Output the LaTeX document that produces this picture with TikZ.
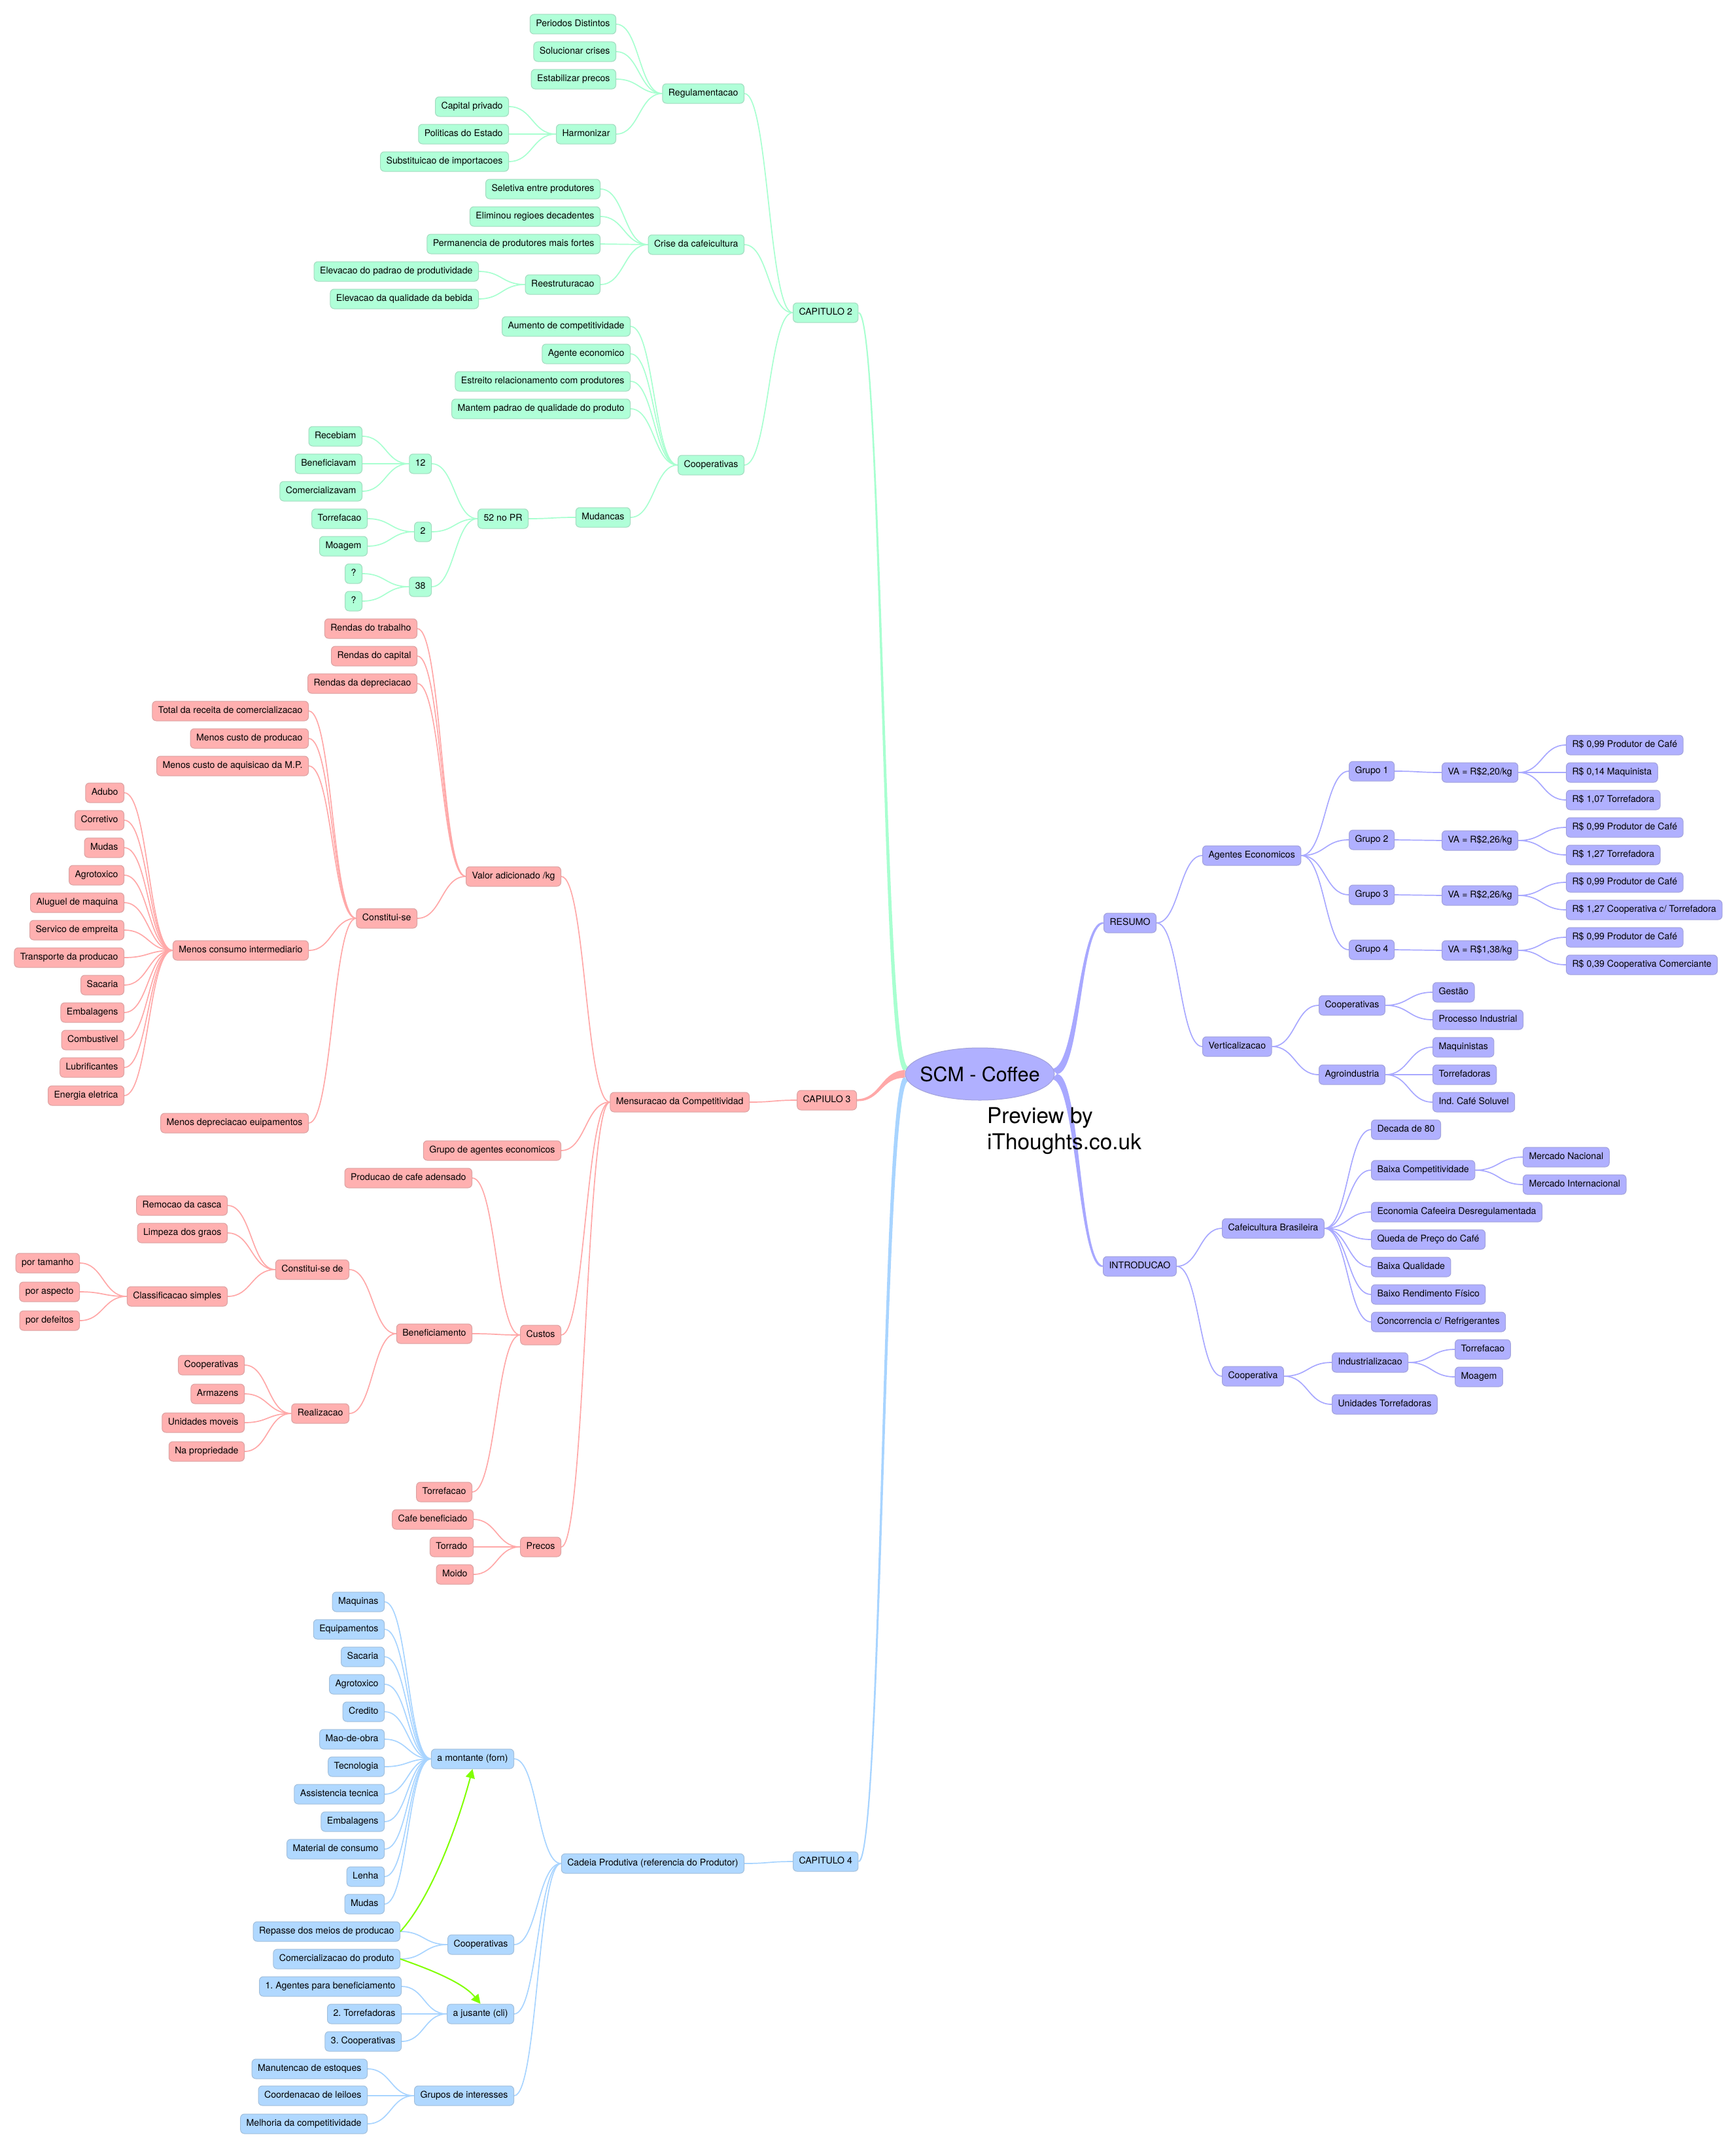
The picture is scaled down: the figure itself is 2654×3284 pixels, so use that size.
\documentclass[tikz,border=0pt]{standalone}
\usepackage{fontspec}
\setmainfont{TeX Gyre Heros}
\usetikzlibrary{calc,shapes.geometric,arrows.meta}
\pgfdeclarelayer{bg}
\pgfsetlayers{bg,main}
\definecolor{grF}{HTML}{B0FFD8}\definecolor{grL}{HTML}{A8FFD0}
\definecolor{rdF}{HTML}{FFB0B0}\definecolor{rdL}{HTML}{FFA8A8}
\definecolor{blF}{HTML}{B0D8FF}\definecolor{blL}{HTML}{A8D4FF}
\definecolor{puF}{HTML}{B0B0FF}\definecolor{puL}{HTML}{A8A8FF}
\definecolor{arL}{HTML}{80FF00}
\tikzset{
  bx/.style={rectangle,rounded corners=6pt,minimum height=30pt,inner xsep=9pt,inner ysep=0pt,
    text height=10.5pt,text depth=3pt,line width=1pt,text=black,font=\frenchspacing\fontsize{14.13}{16}\selectfont},
  gr/.style={fill=grF,draw=grF!72!gray},
  rd/.style={fill=rdF,draw=rdF!72!gray},
  bl/.style={fill=blF,draw=blF!72!gray},
  pu/.style={fill=puF,draw=puF!72!gray},
  conn/.style={line width=1.7pt},
  link/.style={draw=arL,line width=2pt,-{Triangle[length=14pt,width=14pt]}}
}
\newcommand\Lf[5]{\node[bx,#1,anchor=east] (#2) at (#3,#4) {#5};}
\newcommand\Rf[5]{\node[bx,#1,anchor=west] (#2) at (#3,#4) {#5};}
\newcommand\cn[2]{\draw[conn] let \p1=(#1.east),\p2=(#2.west),\n1={0.5*(\x2-\x1)} in (\p1) .. controls +(\n1,0) and +(-\n1,0) .. (\p2);}
\newcommand\taper[5]{\fill[#1] let \p1=(#2),\p2=(#3),\n1={0.5*(\x1+\x2)} in
 ({\x1+.25*(#4pt)},{\y1+.25*(#5pt)}) .. controls ({\n1+.4*(#4pt)},{\y1+.4*(#5pt)}) and ({\n1+.8*(#4pt)},{\y2+.8*(#5pt)}) .. ({\x2+(#4pt)},{\y2+(#5pt)})
 -- ({\x2-(#4pt)},{\y2-(#5pt)}) .. controls ({\n1-.8*(#4pt)},{\y2-.8*(#5pt)}) and ({\n1-.4*(#4pt)},{\y1-.4*(#5pt)}) .. ({\x1-.25*(#4pt)},{\y1-.25*(#5pt)}) -- cycle;}
\begin{document}
\begin{tikzpicture}[x=1pt,y=-1pt]
\useasboundingbox (0,0) rectangle (2654,3284);
\node[ellipse,fill=puF,draw=puF!70!gray,line width=1pt,minimum width=228pt,minimum height=80pt,inner xsep=-11.5pt,inner ysep=0pt,font=\fontsize{30.4}{34}\selectfont] (root) at (1498,1642) {SCM - Coffee};

% GREEN
\Rf{gr}{c2}{1212}{478}{CAPITULO 2}
\Lf{gr}{reg}{1138}{143}{Regulamentacao}
\Lf{gr}{per}{942}{37}{Periodos Distintos}
\Lf{gr}{sol}{942}{79}{Solucionar crises}
\Lf{gr}{est}{942}{121}{Estabilizar precos}
\Lf{gr}{har}{942}{205}{Harmonizar}
\Lf{gr}{cap}{778}{163}{Capital privado}
\Lf{gr}{pol}{778}{205}{Politicas do Estado}
\Lf{gr}{sub}{778}{247}{Substituicao de importacoes}
\Lf{gr}{cri}{1138}{374}{Crise da cafeicultura}
\Lf{gr}{sel}{918}{289}{Seletiva entre produtores}
\Lf{gr}{eli}{918}{331}{Eliminou regioes decadentes}
\Lf{gr}{pem}{918}{373}{Permanencia de produtores mais fortes}
\Lf{gr}{ree}{918}{435}{Reestruturacao}
\Lf{gr}{ev1}{732}{415}{Elevacao do padrao de produtividade}
\Lf{gr}{ev2}{732}{457}{Elevacao da qualidade da bebida}
\Lf{gr}{coo}{1138}{711}{Cooperativas}
\Lf{gr}{aum}{964}{499}{Aumento de competitividade}
\Lf{gr}{age}{964}{541}{Agente economico}
\Lf{gr}{etr}{964}{583}{Estreito relacionamento com produtores}
\Lf{gr}{man}{964}{625}{Mantem padrao de qualidade do produto}
\Lf{gr}{mud}{964}{791}{Mudancas}
\Lf{gr}{pr}{808}{793}{52 no PR}
\Lf{gr}{n12}{660}{709}{12}
\Lf{gr}{rec}{554}{667}{Recebiam}
\Lf{gr}{ben}{554}{709}{Beneficiavam}
\Lf{gr}{com}{554}{751}{Comercializavam}
\Lf{gr}{n2}{660}{813}{2}
\Lf{gr}{tor}{562}{793}{Torrefacao}
\Lf{gr}{moa}{562}{835}{Moagem}
\Lf{gr}{n38}{660}{897}{38}
\Lf{gr}{qa}{554}{877}{?}
\Lf{gr}{qb}{554}{919}{?}

% RED
\Lf{rd}{c3}{1310}{1682}{CAPIULO 3}
\Lf{rd}{mens}{1146}{1685}{Mensuracao da Competitividad}
\Lf{rd}{val}{858}{1340}{Valor adicionado /kg}
\Lf{rd}{rt}{638}{961}{Rendas do trabalho}
\Lf{rd}{rc}{638}{1003}{Rendas do capital}
\Lf{rd}{rdp}{638}{1045}{Rendas da depreciacao}
\Lf{rd}{cons}{638}{1404}{Constitui-se}
\Lf{rd}{tot}{472}{1087}{Total da receita de comercializacao}
\Lf{rd}{mcp}{472}{1129}{Menos custo de producao}
\Lf{rd}{mca}{472}{1171}{Menos custo de aquisicao da M.P.}
\Lf{rd}{mci}{472}{1453}{Menos consumo intermediario}
\Lf{rd}{mde}{472}{1717}{Menos depreciacao euipamentos}
\Lf{rd}{i1}{190}{1212}{Adubo}
\Lf{rd}{i2}{190}{1254}{Corretivo}
\Lf{rd}{i3}{190}{1296}{Mudas}
\Lf{rd}{i4}{190}{1338}{Agrotoxico}
\Lf{rd}{i5}{190}{1380}{Aluguel de maquina}
\Lf{rd}{i6}{190}{1422}{Servico de empreita}
\Lf{rd}{i7}{190}{1464}{Transporte da producao}
\Lf{rd}{i8}{190}{1506}{Sacaria}
\Lf{rd}{i9}{190}{1548}{Embalagens}
\Lf{rd}{i10}{190}{1590}{Combustivel}
\Lf{rd}{i11}{190}{1632}{Lubrificantes}
\Lf{rd}{i12}{190}{1675}{Energia eletrica}
\Lf{rd}{gru}{858}{1759}{Grupo de agentes economicos}
\Lf{rd}{cus}{858}{2041}{Custos}
\Lf{rd}{pca}{722}{1801}{Producao de cafe adensado}
\Lf{rd}{bnf}{722}{2039}{Beneficiamento}
\Lf{rd}{tof}{722}{2281}{Torrefacao}
\Lf{rd}{csd}{534}{1941}{Constitui-se de}
\Lf{rd}{rea}{534}{2161}{Realizacao}
\Lf{rd}{rem}{348}{1843}{Remocao da casca}
\Lf{rd}{lim}{348}{1885}{Limpeza dos graos}
\Lf{rd}{cla}{348}{1982}{Classificacao simples}
\Lf{rd}{pt}{122}{1931}{por tamanho}
\Lf{rd}{pa}{122}{1975}{por aspecto}
\Lf{rd}{pd}{122}{2019}{por defeitos}
\Lf{rd}{rcp}{374}{2087}{Cooperativas}
\Lf{rd}{arm}{374}{2131}{Armazens}
\Lf{rd}{uni}{374}{2175}{Unidades moveis}
\Lf{rd}{nap}{374}{2219}{Na propriedade}
\Lf{rd}{pre}{858}{2365}{Precos}
\Lf{rd}{cbe}{724}{2323}{Cafe beneficiado}
\Lf{rd}{trd}{724}{2365}{Torrado}
\Lf{rd}{moi}{724}{2407}{Moido}

% BLUE
\Rf{bl}{c4}{1212}{2846}{CAPITULO 4}
\Lf{bl}{cad}{1138}{2849}{Cadeia Produtiva (referencia do Produtor)}
\Lf{bl}{mon}{786}{2689}{a montante (forn)}
\Lf{bl}{b1}{588}{2449}{Maquinas}
\Lf{bl}{b2}{588}{2491}{Equipamentos}
\Lf{bl}{b3}{588}{2533}{Sacaria}
\Lf{bl}{b4}{588}{2575}{Agrotoxico}
\Lf{bl}{b5}{588}{2617}{Credito}
\Lf{bl}{b6}{588}{2659}{Mao-de-obra}
\Lf{bl}{b7}{588}{2701}{Tecnologia}
\Lf{bl}{b8}{588}{2743}{Assistencia tecnica}
\Lf{bl}{b9}{588}{2785}{Embalagens}
\Lf{bl}{b10}{588}{2827}{Material de consumo}
\Lf{bl}{b11}{588}{2869}{Lenha}
\Lf{bl}{b12}{588}{2911}{Mudas}
\Lf{bl}{bco}{786}{2973}{Cooperativas}
\Lf{bl}{rep}{612}{2953}{Repasse dos meios de producao}
\Lf{bl}{cpr}{612}{2995}{Comercializacao do produto}
\Lf{bl}{jus}{786}{3079}{a jusante (cli)}
\Lf{bl}{j1}{614}{3037}{1. Agentes para beneficiamento}
\Lf{bl}{j2}{614}{3079}{2. Torrefadoras}
\Lf{bl}{j3}{614}{3121}{3. Cooperativas}
\Lf{bl}{gin}{786}{3204}{Grupos de interesses}
\Lf{bl}{g1}{562}{3163}{Manutencao de estoques}
\Lf{bl}{g2}{562}{3204}{Coordenacao de leiloes}
\Lf{bl}{g3}{562}{3247}{Melhoria da competitividade}

% PURPLE
\Rf{pu}{res}{1687}{1411}{RESUMO}
\Rf{pu}{ag}{1838}{1308}{Agentes Economicos}
\Rf{pu}{ver}{1838}{1600}{Verticalizacao}
\Rf{pu}{g1p}{2062}{1179}{Grupo 1}
\Rf{pu}{g2p}{2062}{1284}{Grupo 2}
\Rf{pu}{g3p}{2062}{1368}{Grupo 3}
\Rf{pu}{g4p}{2062}{1452}{Grupo 4}
\Rf{pu}{va1}{2204}{1181}{VA = R\$2,20/kg}
\Rf{pu}{va2}{2204}{1285}{VA = R\$2,26/kg}
\Rf{pu}{va3}{2204}{1369}{VA = R\$2,26/kg}
\Rf{pu}{va4}{2204}{1453}{VA = R\$1,38/kg}
\Rf{pu}{r1}{2394}{1139}{R\$ 0,99 Produtor de Café}
\Rf{pu}{r2}{2394}{1181}{R\$ 0,14 Maquinista}
\Rf{pu}{r3}{2394}{1223}{R\$ 1,07 Torrefadora}
\Rf{pu}{r4}{2394}{1265}{R\$ 0,99 Produtor de Café}
\Rf{pu}{r5}{2394}{1307}{R\$ 1,27 Torrefadora}
\Rf{pu}{r6}{2394}{1349}{R\$ 0,99 Produtor de Café}
\Rf{pu}{r7}{2394}{1391}{R\$ 1,27 Cooperativa c/ Torrefadora}
\Rf{pu}{r8}{2394}{1433}{R\$ 0,99 Produtor de Café}
\Rf{pu}{r9}{2394}{1475}{R\$ 0,39 Cooperativa Comerciante}
\Rf{pu}{vco}{2016}{1537}{Cooperativas}
\Rf{pu}{vag}{2016}{1643}{Agroindustria}
\Rf{pu}{ges}{2190}{1517}{Gestão}
\Rf{pu}{pro}{2190}{1559}{Processo Industrial}
\Rf{pu}{maq}{2190}{1601}{Maquinistas}
\Rf{pu}{tfd}{2190}{1643}{Torrefadoras}
\Rf{pu}{ind}{2190}{1685}{Ind. Café Soluvel}
\Rf{pu}{int}{1686}{1936}{INTRODUCAO}
\Rf{pu}{caf}{1868}{1878}{Cafeicultura Brasileira}
\Rf{pu}{cop}{1868}{2104}{Cooperativa}
\Rf{pu}{dec}{2096}{1727}{Decada de 80}
\Rf{pu}{bxc}{2096}{1789}{Baixa Competitividade}
\Rf{pu}{eco}{2096}{1853}{Economia Cafeeira Desregulamentada}
\Rf{pu}{que}{2096}{1895}{Queda de Preço do Café}
\Rf{pu}{bxq}{2096}{1937}{Baixa Qualidade}
\Rf{pu}{bxr}{2096}{1979}{Baixo Rendimento Físico}
\Rf{pu}{con}{2096}{2021}{Concorrencia c/ Refrigerantes}
\Rf{pu}{mna}{2328}{1769}{Mercado Nacional}
\Rf{pu}{mit}{2328}{1811}{Mercado Internacional}
\Rf{pu}{inl}{2036}{2083}{Industrializacao}
\Rf{pu}{utf}{2036}{2147}{Unidades Torrefadoras}
\Rf{pu}{ptf}{2224}{2063}{Torrefacao}
\Rf{pu}{pmo}{2224}{2105}{Moagem}

\node[anchor=north west,inner sep=0pt,align=left,font=\frenchspacing\fontsize{33.4}{39.5}\selectfont] (wm) at (1509,1693) {Preview by\\iThoughts.co.uk};

\begin{pgfonlayer}{bg}
\taper{grL}{c2.east}{root.176}{3}{3}
\taper{rdL}{c3.east}{root.180}{0}{6}
\taper{blL}{c4.east}{root.184}{3}{-3}
\taper{puL}{res.west}{root.2}{-4}{4}
\taper{puL}{int.west}{root.358}{-4}{-4}
\begin{scope}[draw=grL]
\foreach \a/\b in {reg/c2,cri/c2,coo/c2,per/reg,sol/reg,est/reg,har/reg,cap/har,pol/har,sub/har,
 sel/cri,eli/cri,pem/cri,ree/cri,ev1/ree,ev2/ree,aum/coo,age/coo,etr/coo,man/coo,mud/coo,pr/mud,
 n12/pr,n2/pr,n38/pr,rec/n12,ben/n12,com/n12,tor/n2,moa/n2,qa/n38,qb/n38}{\cn{\a}{\b}}
\end{scope}
\begin{scope}[draw=rdL]
\foreach \a/\b in {mens/c3,val/mens,gru/mens,cus/mens,pre/mens,rt/val,rc/val,rdp/val,cons/val,
 tot/cons,mcp/cons,mca/cons,mci/cons,mde/cons,i1/mci,i2/mci,i3/mci,i4/mci,i5/mci,i6/mci,i7/mci,i8/mci,i9/mci,i10/mci,i11/mci,i12/mci,
 pca/cus,bnf/cus,tof/cus,csd/bnf,rea/bnf,rem/csd,lim/csd,cla/csd,pt/cla,pa/cla,pd/cla,rcp/rea,arm/rea,uni/rea,nap/rea,cbe/pre,trd/pre,moi/pre}{\cn{\a}{\b}}
\end{scope}
\begin{scope}[draw=blL]
\foreach \a/\b in {cad/c4,mon/cad,bco/cad,jus/cad,gin/cad,b1/mon,b2/mon,b3/mon,b4/mon,b5/mon,b6/mon,b7/mon,b8/mon,b9/mon,b10/mon,b11/mon,b12/mon,
 rep/bco,cpr/bco,j1/jus,j2/jus,j3/jus,g1/gin,g2/gin,g3/gin}{\cn{\a}{\b}}
\end{scope}
\begin{scope}[draw=puL]
\foreach \a/\b in {res/ag,res/ver,ag/g1p,ag/g2p,ag/g3p,ag/g4p,g1p/va1,g2p/va2,g3p/va3,g4p/va4,
 va1/r1,va1/r2,va1/r3,va2/r4,va2/r5,va3/r6,va3/r7,va4/r8,va4/r9,ver/vco,ver/vag,vco/ges,vco/pro,vag/maq,vag/tfd,vag/ind,
 int/caf,int/cop,caf/dec,caf/bxc,caf/eco,caf/que,caf/bxq,caf/bxr,caf/con,bxc/mna,bxc/mit,cop/inl,cop/utf,inl/ptf,inl/pmo}{\cn{\a}{\b}}
\end{scope}
\end{pgfonlayer}
\draw[link] (rep.east) .. controls +(48,-53) and +(-23,86) .. (mon.south);
\draw[link] (cpr.east) .. controls +(43,15) and +(-27,-33) .. (jus.north);
\end{tikzpicture}
\end{document}
